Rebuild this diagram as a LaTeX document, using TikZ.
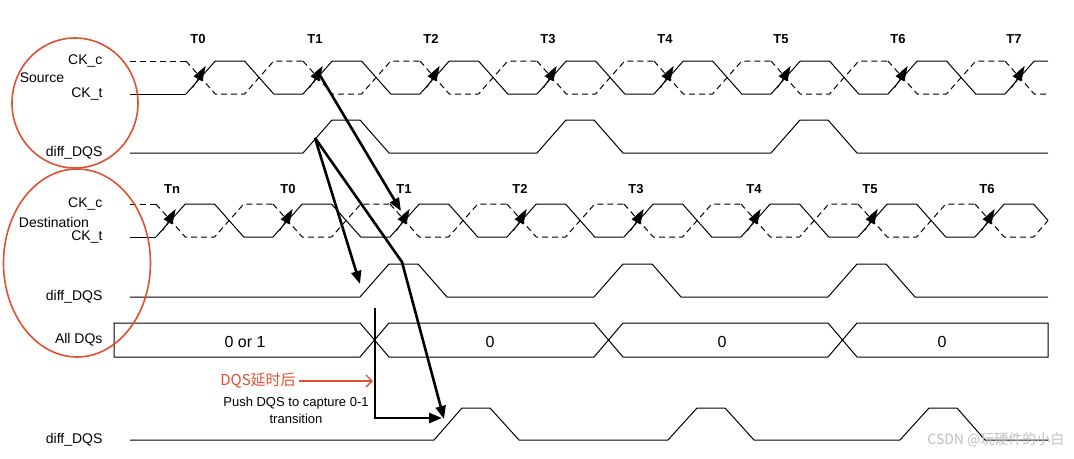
\documentclass[tikz,border=0pt]{standalone}
\usepackage{fontspec}
\setmainfont{Liberation Sans}
\newfontfamily\cjk{Noto Sans CJK SC}
\usetikzlibrary{arrows.meta,shapes.geometric}
\begin{document}
\begin{tikzpicture}[x=1pt,y=-1pt,
  sig/.style={line width=1pt},
  dsig/.style={line width=1pt,dash pattern=on 6pt off 4pt},
  edge/.style={line width=0.6pt,-{Triangle[length=15pt,width=10pt]}},
  big/.style={line width=2.6pt,-{Triangle[length=13pt,width=10pt]}},
  lab/.style={font=\fontsize{14}{16}\selectfont,anchor=east},
  tl/.style={font=\bfseries\fontsize{13}{15}\selectfont},
  oval/.style={draw={rgb,255:red,224;green,80;blue,50},line width=1.6pt}]
\useasboundingbox (0,0) rectangle (1074,458);
\fill[white] (0,0) rectangle (1074,458);
\def\p{117}\def\q{29.25}
% clocks
\begin{scope}
\clip (120,0) rectangle (1048,458);
% source clock
\draw[sig] (130,94)--(186,94);
\draw[dsig] (130,61)--(186,61);
\foreach \k in {0,...,7}{
 \pgfmathsetmacro\b{186+\p*\k}
 \draw[sig] (\b,94)--(\b+\q,61)--(\b+2*\q,61)--(\b+3*\q,94)--(\b+4*\q,94);
 \draw[dsig] (\b,61)--(\b+\q,94)--(\b+2*\q,94)--(\b+3*\q,61)--(\b+4*\q,61);
 \draw[edge] (\b+\q*0.5-8,77+11) -- (\b+\q*0.5+5,77-11);
}
% destination clock
\draw[sig] (130,237)--(156,237);
\draw[dsig] (130,204)--(156,204);
\foreach \k in {0,...,7}{
 \pgfmathsetmacro\b{156+\p*\k}
 \draw[sig] (\b,237)--(\b+\q,204)--(\b+2*\q,204)--(\b+3*\q,237)--(\b+4*\q,237);
 \draw[dsig] (\b,204)--(\b+\q,237)--(\b+2*\q,237)--(\b+3*\q,204)--(\b+4*\q,204);
 \draw[edge] (\b+\q*0.5-8,220+11) -- (\b+\q*0.5+5,220-11);
}
\end{scope}
% source DQS
\draw[sig] (130,153)--(303,153)--(332,120)--(360,120)--(389,153)--(537,153)--(566,120)--(594,120)--(623,153)
 --(771,153)--(800,120)--(828,120)--(857,153)--(1048,153);
% dest DQS
\draw[sig] (130,297)--(360,297)--(389,264)--(418,264)--(447,297)--(594,297)--(623,264)--(652,264)--(681,297)
 --(828,297)--(857,264)--(886,264)--(915,297)--(1048,297);
% All DQs
\draw[sig] (114,323)--(360,323)--(389,357)--(594,357)--(623,323)--(828,323)--(857,357)--(1048,357)--(1048,323)
 --(857,323)--(828,357)--(623,357)--(594,323)--(389,323)--(360,357)--(114,357)--cycle;
% bottom DQS
\draw[sig] (130,440)--(434,440)--(462,408)--(490,408)--(519,440)--(668,440)--(697,408)--(725,408)--(754,440)
 --(900,440)--(929,408)--(957,408)--(985,440)--(1048,440);
% labels
\node[lab] (l1) at (106,61) {CK\_c};
\node[lab] (l2) at (106,94) {CK\_t};
\node[lab] (l3) at (106,153) {diff\_DQS};
\node[lab] (l4) at (106,204) {CK\_c};
\node[lab] (l5) at (106,237) {CK\_t};
\node[lab] (l6) at (106,297) {diff\_DQS};
\node[lab] (l7) at (106,340) {All DQs};
\node[lab] (l8) at (106,440) {diff\_DQS};
\node[font=\fontsize{14}{16}\selectfont] (src) at (42,78) {Source};
\node[font=\fontsize{14}{16}\selectfont] (dst) at (54,222) {Destination};
\node[oval,ellipse,minimum width=126pt,minimum height=130pt,inner sep=0] (o1) at (75,103) {};
\node[oval,ellipse,minimum width=147pt,minimum height=188pt,inner sep=0] (o2) at (77,263) {};
\foreach \t/\x in {T0/198,T1/315,T2/431,T3/548,T4/665,T5/781,T6/898,T7/1014}
 \node[tl] (s\t) at (\x,39) {\t};
\foreach \t/\x in {Tn/172,T0/288,T1/404,T2/520,T3/636,T4/754,T5/870,T6/987}
 \node[tl] (d\t) at (\x,189) {\t};
\node[font=\fontsize{16}{18}\selectfont] (v1) at (245,342) {0 or 1};
\node[font=\fontsize{16}{18}\selectfont] (v2) at (490,342) {0};
\node[font=\fontsize{16}{18}\selectfont] (v3) at (722,342) {0};
\node[font=\fontsize{16}{18}\selectfont] (v4) at (942,342) {0};
% big arrows
\coordinate (a1s) at (318,72); \coordinate (a1e) at (401,211);
\coordinate (a2s) at (315,138); \coordinate (a2e) at (360,284);
\coordinate (a3m) at (402,262); \coordinate (a3e) at (444,419);
\coordinate (vt) at (375,308); \coordinate (vb) at (375,418); \coordinate (ve) at (442,418);
\draw[big] (a1s)--(a1e);
\draw[big] (a2s)--(a2e);
\draw[big] (a2s)--(a3m)--(a3e);
\draw[big] (vt)--(vb)--(ve);
% red annotation
\node[font=\cjk\fontsize{15}{17}\selectfont,text={rgb,255:red,224;green,80;blue,50}] (dqs) at (258,381) {DQS延时后};
\coordinate (rt) at (373,381);
\draw[line width=1.3pt,draw={rgb,255:red,224;green,80;blue,50},-{Straight Barb[length=6pt,width=12pt]}] (dqs.east)--(rt);
\node[font=\fontsize{13}{15}\selectfont,align=center] (push) at (296,410) {Push DQS to capture 0-1\\[2pt]transition};
\node[font=\cjk\fontsize{14}{16}\selectfont,text=black!25,anchor=east] (wm) at (1068,440) {CSDN @玩硬件的小白};
\end{tikzpicture}
\end{document}
